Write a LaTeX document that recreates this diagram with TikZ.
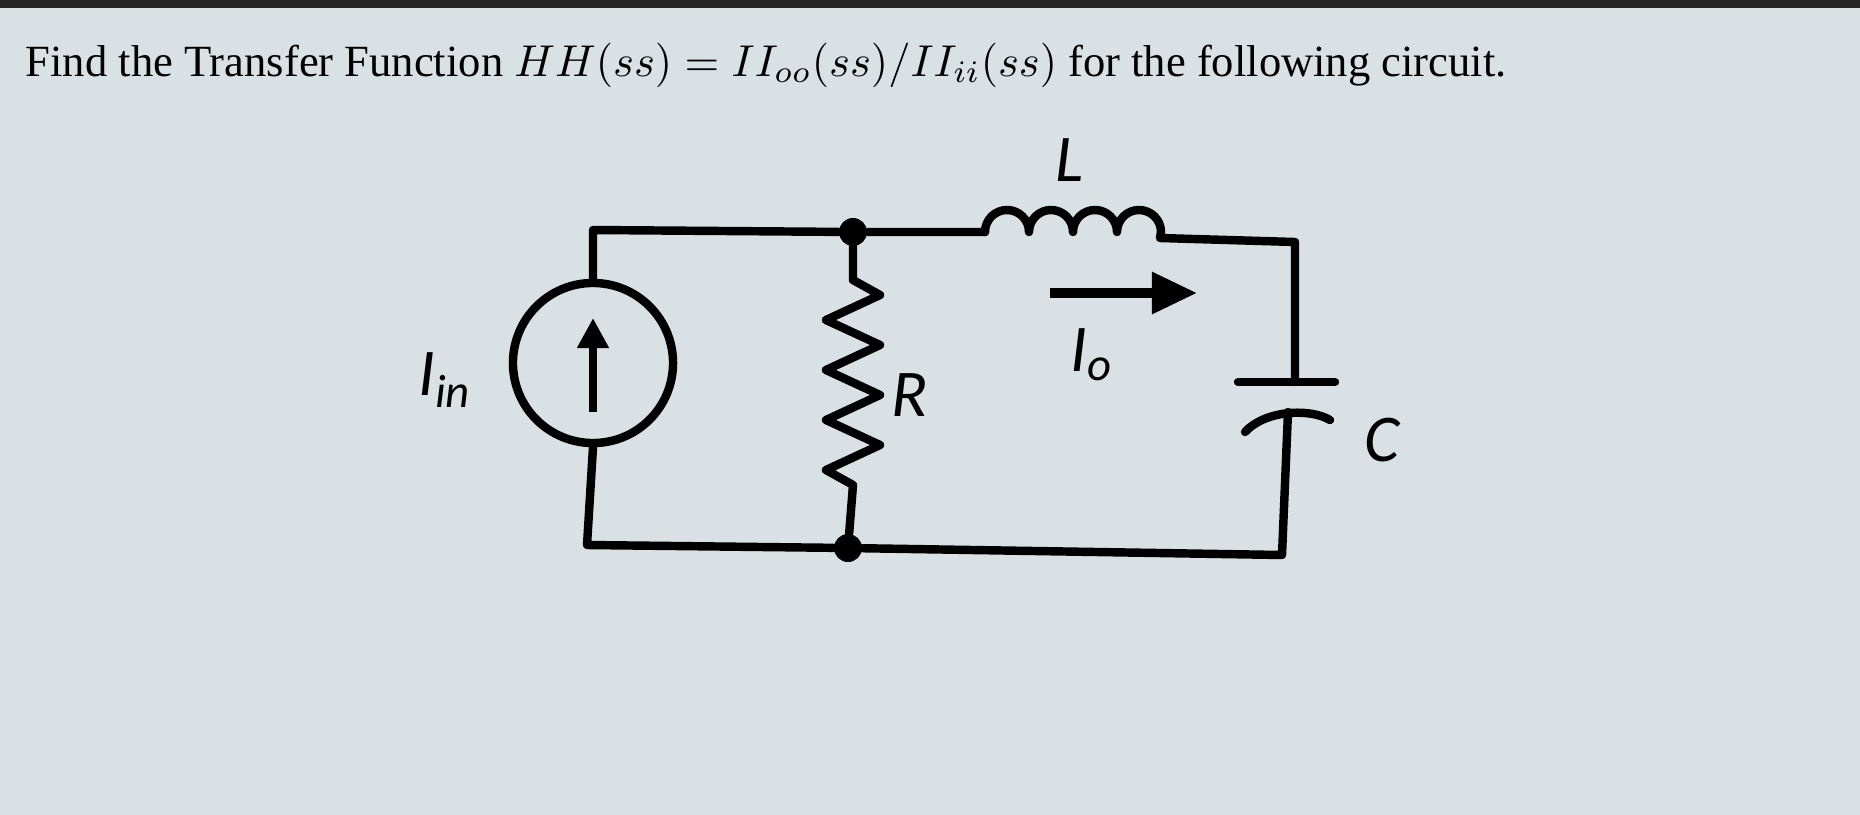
\documentclass[tikz,border=0pt]{standalone}
\usepackage{fontspec}
\setmainfont{Liberation Serif}
\newfontfamily\lbl{Carlito}
\usetikzlibrary{arrows.meta}
\begin{document}
\begin{tikzpicture}[x=0.01cm,y=-0.01cm,
  wire/.style={line width=2.4pt,line join=round,line cap=round},
  dotn/.style={circle,fill=black,inner sep=0pt,minimum size=0.28cm},
  lab/.style={font=\lbl\itshape\fontsize{19}{19}\selectfont,inner sep=0pt}]
\useasboundingbox (0,0) rectangle (1860,815);
\fill[gray!25!white!95!cyan] (0,0) rectangle (1860,815);
\fill[black!85] (0,0) rectangle (1860,8);
\node[anchor=west,inner sep=0pt] (title) at (25,65) {\resizebox{14.8cm}{!}{Find the Transfer Function $HH(ss) = II_{oo}(ss)/II_{ii}(ss)$ for the following circuit.}};
% coordinates
\coordinate (tl) at (593,230);
\node[dotn] (nt) at (853,232) {};
\node[dotn] (nb) at (848,548) {};
\coordinate (bl) at (587,545);
\coordinate (ls) at (985,232);
\coordinate (le) at (1160,238);
\coordinate (tr) at (1295,242);
\coordinate (cp) at (1295,382);
\coordinate (cb) at (1288,412);
\coordinate (br) at (1282,555);
\node[circle,draw,line width=2.4pt,minimum size=1.6cm,inner sep=0pt] (src) at (593,363) {};
% wires
\draw[wire] (src.north) -- (tl) -- (nt) -- (ls);
\draw[wire] (ls) arc[start angle=180,end angle=0,x radius=22,y radius=-22]
  arc[start angle=180,end angle=0,x radius=22,y radius=-22]
  arc[start angle=180,end angle=0,x radius=22,y radius=-22]
  arc[start angle=180,end angle=0,x radius=22,y radius=-22] -- (le) -- (tr) -- (cp);
\draw[wire] (1238,382) -- (1335,382);
\draw[wire] (1245,432) .. controls (1265,410) and (1310,408) .. (1330,420);
\draw[wire] (cb) -- (br) -- (nb) -- (bl) -- (src.south);
\draw[wire] (nt) -- (853,280) -- (880,295) -- (826,320) -- (880,345) -- (826,370) -- (880,395) -- (826,420) -- (880,445) -- (826,470) -- (853,485) -- (nb);
\draw[line width=2.4pt,-{Triangle[length=0.3cm,width=0.3cm]}] (593,412) -- (593,318);
\draw[line width=2.6pt,-{Triangle[length=0.45cm,width=0.4cm]}] (1050,293) -- (1197,293);
\node[lab] (Lt) at (1070,160) {L};
\node[lab] (Rt) at (910,395) {R};
\node[lab] (Ct) at (1382,440) {C};
\node[lab] (It) at (1092,355) {I\textsubscript{o}};
\node[lab] (Iin) at (445,380) {I\textsubscript{in}};
\end{tikzpicture}
\end{document}
